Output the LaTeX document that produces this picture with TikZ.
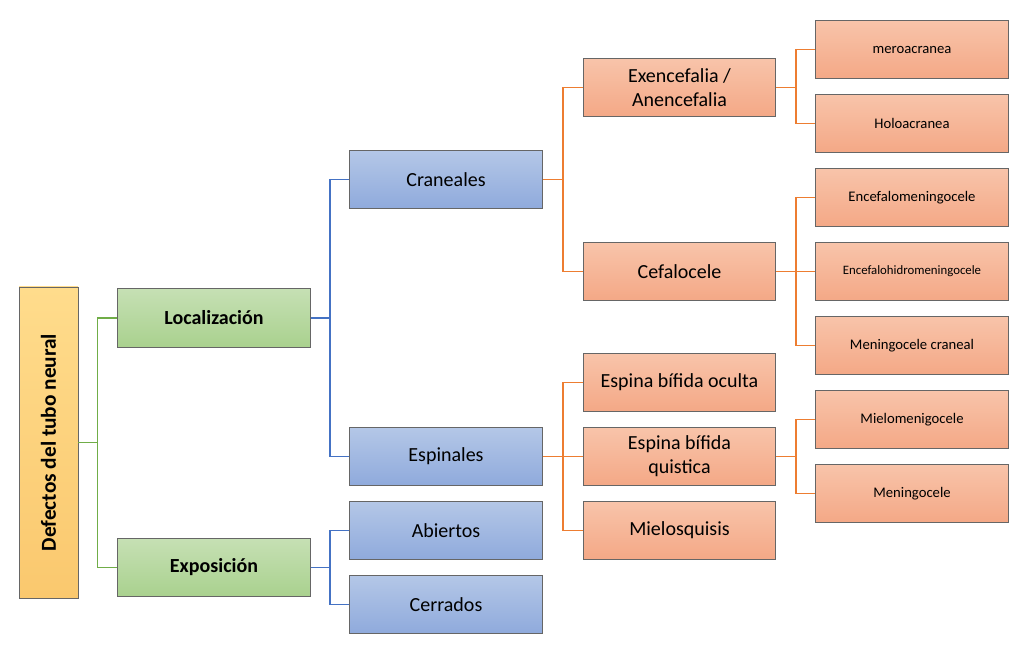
\documentclass[tikz,border=0pt]{standalone}
\usepackage{fontspec}
\setmainfont{Carlito}
\begin{document}
\begin{tikzpicture}[x=0.75pt,y=-0.75pt,
 box/.style={draw=gray!80!black,line width=0.6pt,inner sep=1pt,align=center},
 gr/.style={box,top color=green!30!white!80!black!0!white,top color={rgb,255:red,198;green,224;blue,180},bottom color={rgb,255:red,169;green,209;blue,142}},
 bl/.style={box,top color={rgb,255:red,180;green,199;blue,231},bottom color={rgb,255:red,143;green,170;blue,220}},
 orr/.style={box,top color={rgb,255:red,248;green,196;blue,170},bottom color={rgb,255:red,244;green,168;blue,134}},
 gl/.style={draw={rgb,255:red,112;green,173;blue,71},line width=1.1pt},
 bll/.style={draw={rgb,255:red,68;green,114;blue,196},line width=1.1pt},
 ol/.style={draw={rgb,255:red,237;green,125;blue,49},line width=1.1pt}]
\useasboundingbox (0,0) rectangle (1024,648);
\newcommand\bx[6]{\node[#1,minimum width=#4*0.75pt-0.6pt,minimum height=59*0.75pt-0.6pt,font=#5] (#2) at (#3) {#6};}
\node[box,top color={rgb,255:red,255;green,220;blue,140},bottom color={rgb,255:red,250;green,200;blue,110},minimum width=59*0.75pt,minimum height=311*0.75pt] (root) at (48.5,442.5) {};
\node[rotate=90,font=\fontsize{16}{18}\selectfont\bfseries] at (root.center) {Defectos del tubo neural};
\bx{gr}{loc}{214,318}{194}{\fontsize{15}{17}\selectfont\bfseries}{Localización}
\bx{gr}{exp}{214,567.5}{194}{\fontsize{15}{17}\selectfont\bfseries}{Exposición}
\bx{bl}{cra}{446,179.5}{194}{\fontsize{15}{17}\selectfont}{Craneales}
\bx{bl}{esp}{446,456.5}{194}{\fontsize{15}{17}\selectfont}{Espinales}
\bx{bl}{abi}{446,530.5}{194}{\fontsize{15}{17}\selectfont}{Abiertos}
\bx{bl}{cer}{446,604.5}{194}{\fontsize{15}{17}\selectfont}{Cerrados}
\bx{orr}{exe}{679.5,87.5}{193}{\fontsize{15}{18}\selectfont}{Exencefalia /\\Anencefalia}
\bx{orr}{cef}{679.5,271.5}{193}{\fontsize{15}{17}\selectfont}{Cefalocele}
\bx{orr}{ebo}{679.5,382.5}{193}{\fontsize{15}{17}\selectfont}{Espina bífida oculta}
\bx{orr}{ebq}{679.5,456.5}{193}{\fontsize{15}{18}\selectfont}{Espina bífida\\quistica}
\bx{orr}{mie}{679.5,530.5}{193}{\fontsize{15}{17}\selectfont}{Mielosquisis}
\bx{orr}{mer}{912,49.5}{194}{\fontsize{11}{13}\selectfont}{meroacranea}
\bx{orr}{hol}{912,123.5}{194}{\fontsize{11}{13}\selectfont}{Holoacranea}
\bx{orr}{enc}{912,197.5}{194}{\fontsize{11}{13}\selectfont}{Encefalomeningocele}
\bx{orr}{ehm}{912,271.5}{194}{\fontsize{9.6}{12}\selectfont}{Encefalohidromeningocele}
\bx{orr}{mcr}{912,345.5}{194}{\fontsize{11}{13}\selectfont}{Meningocele craneal}
\bx{orr}{mmg}{912,419.5}{194}{\fontsize{11}{13}\selectfont}{Mielomenigocele}
\bx{orr}{men}{912,493.5}{194}{\fontsize{11}{13}\selectfont}{Meningocele}
\foreach \a/\b in {loc/root,exp/root}{\path[gl] (root.east) -- ++(19,0) |- (\a.west);}
\foreach \a in {cra,esp}{\path[bll] (loc.east) -- ++(19,0) |- (\a.west);}
\foreach \a in {abi,cer}{\path[bll] (exp.east) -- ++(19,0) |- (\a.west);}
\foreach \a in {exe,cef}{\path[ol] (cra.east) -- ++(20,0) |- (\a.west);}
\foreach \a in {ebo,ebq,mie}{\path[ol] (esp.east) -- ++(20,0) |- (\a.west);}
\foreach \a in {mer,hol}{\path[ol] (exe.east) -- ++(20,0) |- (\a.west);}
\foreach \a in {enc,ehm,mcr}{\path[ol] (cef.east) -- ++(20,0) |- (\a.west);}
\foreach \a in {mmg,men}{\path[ol] (ebq.east) -- ++(20,0) |- (\a.west);}
\end{tikzpicture}
\end{document}
